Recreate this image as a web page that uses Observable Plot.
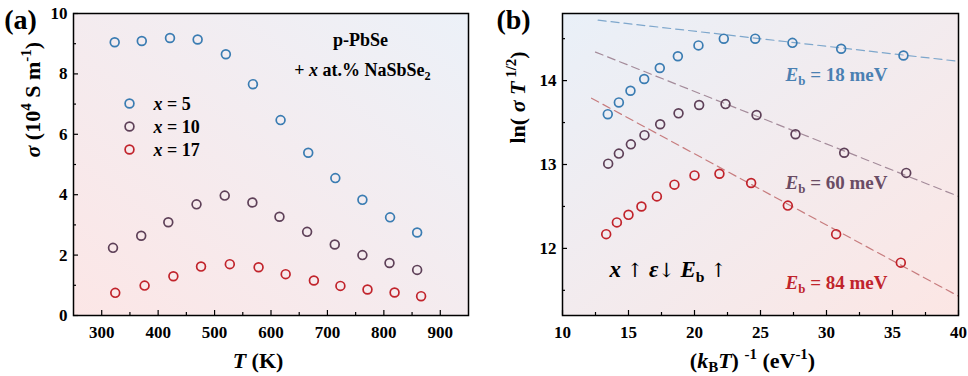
<!DOCTYPE html>
<html><head><meta charset="utf-8">
<script src="https://cdn.jsdelivr.net/npm/d3@7"></script>
<script src="https://cdn.jsdelivr.net/npm/@observablehq/plot@0.6"></script>
<style>
body{margin:0;background:#fff}
#wrap{display:flex;width:968px;height:376px}
svg{overflow:visible}
svg text{font-family:'Liberation Serif','Times New Roman',serif !important;font-weight:bold}
</style>
</head><body><div id="wrap"></div>
<script>
// ---------- data: panel (a) sigma vs T ----------
const seriesNames = ["{i:x} = 5", "{i:x} = 10", "{i:x} = 17"];
const T5  = [323, 371, 421, 470, 520, 568, 617, 666, 714, 762, 811, 859];
const s5  = [9.05, 9.09, 9.19, 9.14, 8.65, 7.66, 6.47, 5.39, 4.55, 3.83, 3.25, 2.75];
const T10 = [320, 370, 418, 468, 518, 567, 615, 664, 713, 762, 810, 859];
const s10 = [2.24, 2.64, 3.09, 3.68, 3.97, 3.74, 3.27, 2.77, 2.35, 2.00, 1.74, 1.51];
const T17 = [324, 376, 427, 476, 527, 578, 626, 676, 723, 771, 819, 866];
const s17 = [0.75, 0.99, 1.30, 1.62, 1.70, 1.60, 1.37, 1.16, 0.98, 0.86, 0.76, 0.64];

// ---------- data: panel (b) ln(sigma T^1/2) vs (kBT)^-1 ----------
const inv5  = [13.43, 14.27, 15.15, 16.19, 17.37, 18.74, 20.30, 22.22, 24.60, 27.42, 31.11, 35.83];
const ln5   = [13.60, 13.74, 13.88, 14.02, 14.15, 14.29, 14.42, 14.50, 14.50, 14.45, 14.38, 14.30];
const inv10 = [13.46, 14.27, 15.18, 16.21, 17.40, 18.79, 20.35, 22.35, 24.70, 27.65, 31.34, 36.04];
const ln10  = [13.01, 13.13, 13.24, 13.35, 13.48, 13.61, 13.71, 13.72, 13.59, 13.36, 13.14, 12.90];
const inv17 = [13.31, 14.12, 15.00, 15.98, 17.15, 18.48, 20.00, 21.89, 24.29, 27.07, 30.73, 35.63];
const ln17  = [12.17, 12.31, 12.40, 12.50, 12.62, 12.76, 12.87, 12.89, 12.78, 12.51, 12.17, 11.83];
// linear fits (endpoints)
const fit5x  = [12.7, 40]; const fit5y  = [14.72, 14.23];
const fit10x = [12.5, 40]; const fit10y = [14.34, 12.62];
const fit17x = [12.2, 40]; const fit17y = [13.79, 11.43];
const ebLabels = ["{i:E}{sub:b} = 18 meV", "{i:E}{sub:b} = 60 meV", "{i:E}{sub:b} = 84 meV"];
const trendLabel = "{i:x} {a:↑} {i:ε}{a:↓} {i:E}{sub:b} {a:↑}";

// ---------- ticks & texts ----------
const xTicksA = [300, 400, 500, 600, 700, 800, 900];
const xMinorA = [350, 450, 550, 650, 750, 850];
const yTicksA = [0, 2, 4, 6, 8, 10];
const yMinorA = [1, 3, 5, 7, 9];
const xTicksB = [10, 15, 20, 25, 30, 35, 40];
const xMinorB = [12.5, 17.5, 22.5, 27.5, 32.5, 37.5];
const yTicksB = [12, 13, 14];
const yMinorB = [11.5, 12.5, 13.5, 14.5];
const xTitleA = "{i:T} (K)";
const yTitleA = "{i:σ} (10{sup:4} S m{sup:-1})";
const xTitleB = "({i:k}{sub:B}{i:T}) {sup:-1} (eV{sup:-1})";
const yTitleB = "ln( {i:σ} {i:T}{sup: 1/2})";
const sampleTitle = ["p-PbSe", "+ {i:x} at.% NaSbSe{sub:2}"];

const colors = ["#3a7cb2", "#5e4058", "#c1232b"];
const fitColors = ["#7ea7cc", "#a48b9a", "#c77c7e"];
const ebColors = ["#4a80b2", "#6a4c64", "#c0242c"];

const zip = (xs, ys) => xs.map((x, i) => ({x, y: ys[i]}));
const STYLE = "font-family:'Liberation Serif','Times New Roman',serif;font-weight:bold;font-size:17px;color:#000;background:transparent;overflow:visible";
const W = 484, H = 376;
const fmt = d => `${d}`;

function richify(svg) {
  d3.select(svg).selectAll("text").each(function() {
    const str = this.textContent;
    if (!/\{(i|sub|sup|a):/.test(str)) return;
    const fs = parseFloat(getComputedStyle(this).fontSize);
    const sel = d3.select(this); sel.text(null);
    const re = /\{(i|sub|sup|a):([^}]*)\}/g; let last = 0, m; const parts = [];
    while ((m = re.exec(str))) { if (m.index > last) parts.push(["n", str.slice(last, m.index)]); parts.push([m[1], m[2]]); last = re.lastIndex; }
    if (last < str.length) parts.push(["n", str.slice(last)]);
    let shift = 0;
    for (const [t, s] of parts) {
      const target = t === "sub" ? fs * 0.22 : t === "sup" ? -fs * 0.38 : 0;
      const ts = sel.append("tspan").text(s);
      if (target !== shift) { ts.attr("dy", target - shift); shift = target; }
      if (t === "sub" || t === "sup") ts.attr("font-size", fs * 0.68);
      if (t === "i") ts.style("font-style", "italic");
      if (t === "a") ts.style("font-family", "'DejaVu Serif'").style("font-weight", "normal").attr("font-size", fs * 0.85);
    }
  });
}
function addGradient(svg, id, x1, y1, x2, y2, c1, c2) {
  const defs = d3.select(svg).insert("defs", ":first-child");
  const g = defs.append("linearGradient").attr("id", id)
    .attr("x1", x1).attr("y1", y1).attr("x2", x2).attr("y2", y2);
  g.append("stop").attr("offset", "0%").attr("stop-color", c1);
  g.append("stop").attr("offset", "100%").attr("stop-color", c2);
}

// ---------- panel (a) ----------
const mA = {l: 73, r: 16, t: 13, b: 61};
const pwA = W - mA.l - mA.r, phA = H - mA.t - mA.b;
const dataA = [zip(T5, s5), zip(T10, s10), zip(T17, s17)];
const plotA = Plot.plot({
  width: W, height: H,
  marginLeft: mA.l, marginRight: mA.r, marginTop: mA.t, marginBottom: mA.b,
  style: STYLE,
  x: {domain: [250, 950]},
  y: {domain: [0, 10]},
  marks: [
    Plot.frame({fill: "url(#gradA)", stroke: null}),
    ...dataA.map((d, k) => Plot.dot(d, {x: "x", y: "y", r: 4.4, stroke: colors[k], strokeWidth: 1.7, fill: "none"})),
    Plot.tickX(xTicksA, {x: d => d, insetTop: phA - 5, stroke: "#000", strokeWidth: 1.2}),
    Plot.tickX(xMinorA, {x: d => d, insetTop: phA - 3, stroke: "#000", strokeWidth: 1.2}),
    Plot.tickY(yTicksA, {y: d => d, insetRight: pwA - 5, stroke: "#000", strokeWidth: 1.2}),
    Plot.tickY(yMinorA, {y: d => d, insetRight: pwA - 3, stroke: "#000", strokeWidth: 1.2}),
    Plot.axisX(xTicksA, {tickSize: 0, tickPadding: 10, label: null, fontSize: 17, tickFormat: fmt}),
    Plot.axisY(yTicksA, {tickSize: 0, tickPadding: 6, label: null, fontSize: 17, tickFormat: fmt}),
    Plot.frame({stroke: "#000", strokeWidth: 1.5}),
    // legend
    ...seriesNames.map((s, k) => Plot.dot([s], {frameAnchor: "top-left", dx: 56, dy: 90 + 23 * k, r: 4.4, stroke: colors[k], strokeWidth: 1.7, fill: "none"})),
    ...seriesNames.map((s, k) => Plot.text([s], {text: d => d, frameAnchor: "top-left", dx: 80, dy: 91 + 23 * k, textAnchor: "start", lineAnchor: "middle", fontSize: 18, fill: "#000"})),
    Plot.text([sampleTitle[0]], {text: d => d, frameAnchor: "top-left", dx: 287, dy: 27, textAnchor: "middle", lineAnchor: "middle", fontSize: 18}),
    Plot.text([sampleTitle[1]], {text: d => d, frameAnchor: "top-left", dx: 289, dy: 57, textAnchor: "middle", lineAnchor: "middle", fontSize: 18}),
    Plot.text([xTitleA], {text: d => d, frameAnchor: "bottom", dx: -13, dy: 45, lineAnchor: "middle", fontSize: 22}),
    Plot.text([yTitleA], {text: d => d, frameAnchor: "left", rotate: -90, dx: -41, dy: -7, lineAnchor: "middle", fontSize: 22}),
    Plot.text(["(a)"], {text: d => d, frameAnchor: "top-left", dx: -53, dy: 7, textAnchor: "middle", lineAnchor: "middle", fontSize: 28})
  ]
});

// ---------- panel (b) ----------
const mB = {l: 78, r: 10, t: 13, b: 61};
const pwB = W - mB.l - mB.r, phB = H - mB.t - mB.b;
const dataB = [zip(inv5, ln5), zip(inv10, ln10), zip(inv17, ln17)];
const fitsB = [zip(fit5x, fit5y), zip(fit10x, fit10y), zip(fit17x, fit17y)];
const ebDy = [61, 169, 269];
const plotB = Plot.plot({
  width: W, height: H,
  marginLeft: mB.l, marginRight: mB.r, marginTop: mB.t, marginBottom: mB.b,
  style: STYLE,
  x: {domain: [10, 40]},
  y: {domain: [11.2, 14.8]},
  marks: [
    Plot.frame({fill: "url(#gradB)", stroke: null}),
    ...fitsB.map((d, k) => Plot.line(d, {x: "x", y: "y", stroke: fitColors[k], strokeWidth: 1.2, strokeDasharray: "8,5"})),
    ...dataB.map((d, k) => Plot.dot(d, {x: "x", y: "y", r: 4.4, stroke: colors[k], strokeWidth: 1.7, fill: "none"})),
    Plot.tickX(xTicksB, {x: d => d, insetTop: phB - 5, stroke: "#000", strokeWidth: 1.2}),
    Plot.tickX(xMinorB, {x: d => d, insetTop: phB - 3, stroke: "#000", strokeWidth: 1.2}),
    Plot.tickY(yTicksB, {y: d => d, insetRight: pwB - 5, stroke: "#000", strokeWidth: 1.2}),
    Plot.tickY(yMinorB, {y: d => d, insetRight: pwB - 3, stroke: "#000", strokeWidth: 1.2}),
    Plot.axisX(xTicksB, {tickSize: 0, tickPadding: 10, label: null, fontSize: 17, tickFormat: fmt}),
    Plot.axisY(yTicksB, {tickSize: 0, tickPadding: 6, label: null, fontSize: 17, tickFormat: fmt}),
    Plot.frame({stroke: "#000", strokeWidth: 1.5}),
    ...ebLabels.map((s, k) => Plot.text([s], {text: d => d, frameAnchor: "top-left", dx: 223, dy: ebDy[k], textAnchor: "start", lineAnchor: "middle", fontSize: 19, fill: ebColors[k]})),
    Plot.text([trendLabel], {text: d => d, frameAnchor: "top-left", dx: 47, dy: 256, textAnchor: "start", lineAnchor: "middle", fontSize: 23, fill: "#000"}),
    Plot.text([xTitleB], {text: d => d, frameAnchor: "bottom", dx: -8, dy: 45, lineAnchor: "middle", fontSize: 22}),
    Plot.text([yTitleB], {text: d => d, frameAnchor: "left", rotate: -90, dx: -45, dy: -21, lineAnchor: "middle", fontSize: 22}),
    Plot.text(["(b)"], {text: d => d, frameAnchor: "top-left", dx: -49, dy: 7, textAnchor: "middle", lineAnchor: "middle", fontSize: 28})
  ]
});

const wrap = document.getElementById("wrap");
wrap.appendChild(plotA);
wrap.appendChild(plotB);
addGradient(plotA, "gradA", "0", "1", "1", "0", "#fce6e6", "#ecf1f8");
addGradient(plotB, "gradB", "0", "0", "1", "1", "#e9f0f8", "#fce6e4");
richify(plotA);
richify(plotB);
</script>
</body></html>
